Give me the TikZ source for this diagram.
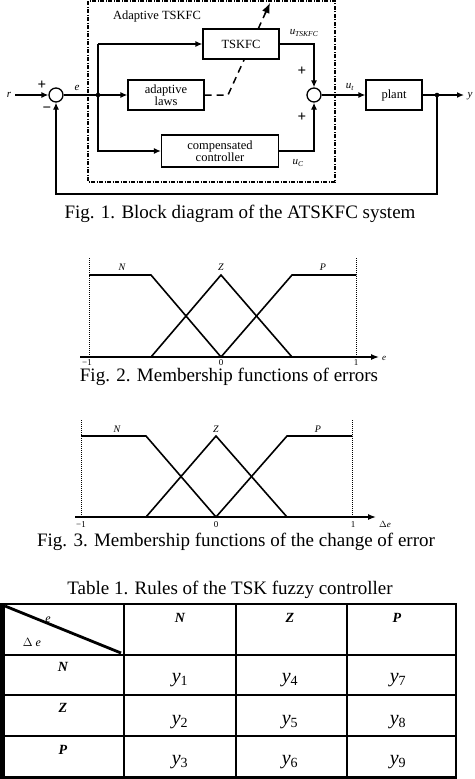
\documentclass[tikz,border=0pt]{standalone}
\usepackage{fontspec}
\setmainfont{Liberation Serif}
\usetikzlibrary{arrows.meta,calc}
\begin{document}
\begin{tikzpicture}[x=1pt,y=-1pt,
  blk/.style={draw,line width=1.3pt,fill=white,minimum width=#1,inner sep=0pt,font=\fontsize{12.5}{12.5}\selectfont,align=center},
  sumc/.style={draw,circle,line width=1.3pt,minimum size=14pt,inner sep=0pt},
  ln/.style={line width=1.3pt},
  arr/.style={line width=1.3pt,-{Latex[length=7pt,width=6pt]}},
  lbl/.style={font=\fontsize{11}{11}\selectfont\itshape,inner sep=0pt},
  pm/.style={font=\fontsize{15}{15}\selectfont\bfseries,inner sep=0pt},
  mf/.style={line width=1.6pt},
  dv/.style={line width=1pt,densely dotted},
  tk/.style={font=\fontsize{9}{9}\selectfont,inner sep=0pt},
  figcap/.style={font=\fontsize{19}{20}\selectfont,inner sep=0pt},
  tl/.style={line width=2.6pt},
  hd/.style={font=\fontsize{14}{14}\selectfont\bfseries\itshape,inner sep=0pt},
  yv/.style={font=\fontsize{20}{20}\selectfont,inner sep=0pt}]
\useasboundingbox (0,0) rectangle (474,779);
% ---------- Fig. 1 ----------
\draw[line width=1.2pt,dash pattern=on 4pt off 1.5pt on 1pt off 1.5pt] (88,1) rectangle (335,182);
\node[inner sep=0pt,font=\fontsize{12.5}{12.5}\selectfont] (adlbl) at (157,16) {Adaptive TSKFC};
\coordinate (dstart) at (228,95);
\coordinate (dtip) at (270,3);
\node[blk=76pt,minimum height=30pt] (al) at (166,95) {adaptive\\laws};
\draw[line width=1.5pt,dashed,dash pattern=on 7pt off 5pt] (al.east) -- (dstart) -- ($(dstart)!0.93!(dtip)$);
\draw[line width=1.3pt,-{Latex[length=10pt,width=8pt]}] ($(dstart)!0.88!(dtip)$) -- (dtip);
\node[blk=76pt,minimum height=30pt] (ts) at (241,44) {TSKFC};
\node[blk=117pt,minimum height=32pt] (cc) at (220,151) {compensated\\controller};
\node[sumc] (s1) at (56,95) {};
\node[sumc] (s2) at (314,95) {};
\node[blk=56pt,minimum height=30pt] (pl) at (394,95) {plant};
\node[lbl] (r) at (9,95) {r};
\coordinate (rin) at (15,95);
\node[lbl] (e) at (77,88) {e};
\fill (98,95) circle (2.3pt) coordinate (j);
\fill (437,95) circle (2.3pt) coordinate (j2);
\node[lbl] (y) at (470,96) {y};
\coordinate (yout) at (464,95);
\draw[arr] (rin) -- (s1.west);
\draw[ln] (s1.east) -- (j);
\draw[arr] (j) -- (al.west);
\draw[ln] (98,44) -- (98,152);
\draw[arr] (98,44) -- (ts.west);
\draw[arr] (98,151) -- (cc.west);
\draw[arr] (ts.east) -| (s2.north);
\draw[arr] (cc.east) -| (s2.south);
\draw[arr] (s2.east) -- (pl.west);
\draw[ln] (pl.east) -- (j2);
\draw[arr] (j2) -- (yout);
\draw[arr] (j2) -- (437,194) -| (s1.south);
\node[lbl] (uts) at (304,33) {u\textsubscript{\fontsize{7.5}{7.5}\selectfont TSKFC}};
\node[lbl] (ut) at (350,87) {u\textsubscript{\fontsize{7.5}{7.5}\selectfont t}};
\node[lbl] (uc) at (298,163) {u\textsubscript{\fontsize{7.5}{7.5}\selectfont C}};
\node[pm] (p1) at (302,71) {+};
\node[pm] (p2) at (302,117) {+};
\node[pm] (p3) at (42,85) {+};
\node[pm] (m3) at (47,110) {\textminus};
\node[figcap] (c1) at (240,214) {Fig. 1. Block diagram of the ATSKFC system};
% ---------- Fig. 2 ----------
\draw[dv] (89,258) -- (89,357);
\draw[dv] (356,258) -- (356,357);
\draw[line width=1.3pt,-{Latex[length=8pt,width=6pt]}] (80,357) -- (379,357);
\draw[mf] (89,275) -- (151,275) -- (221,357);
\draw[mf] (151,357) -- (221,275) -- (292,357);
\draw[mf] (221,357) -- (292,275) -- (356,275);
\node[lbl,font=\fontsize{10}{10}\selectfont\itshape] (n2) at (122,267) {N};
\node[lbl,font=\fontsize{10}{10}\selectfont\itshape] (z2) at (221,267) {Z};
\node[lbl,font=\fontsize{10}{10}\selectfont\itshape] (pp2) at (323,267) {P};
\node[tk] (t2a) at (87,363) {\textminus1};
\node[tk] (t2b) at (221,363) {0};
\node[tk] (t2c) at (356,363) {1};
\node[lbl,font=\fontsize{9}{9}\selectfont\itshape] (e2) at (384,358) {e};
\node[figcap] (c2) at (229,377) {Fig. 2. Membership functions of errors};
% ---------- Fig. 3 ----------
\draw[dv] (81,420) -- (81,517);
\draw[dv] (352,420) -- (352,517);
\draw[line width=1.3pt,-{Latex[length=8pt,width=6pt]}] (75,517) -- (376,517);
\draw[mf] (81,436) -- (146,436) -- (216,517);
\draw[mf] (146,517) -- (216,436) -- (287,517);
\draw[mf] (216,517) -- (287,436) -- (352,436);
\node[lbl,font=\fontsize{10}{10}\selectfont\itshape] (n3) at (117,429) {N};
\node[lbl,font=\fontsize{10}{10}\selectfont\itshape] (z3) at (216,429) {Z};
\node[lbl,font=\fontsize{10}{10}\selectfont\itshape] (pp3) at (318,429) {P};
\node[tk] (t3a) at (81,525) {\textminus1};
\node[tk] (t3b) at (216,525) {0};
\node[tk] (t3c) at (353,525) {1};
\node[tk] (de3) at (385,524) {$\Delta$\textit{e}};
\node[figcap] (c3) at (236,542) {Fig. 3. Membership functions of the change of error};
% ---------- Table ----------
\node[figcap] (c4) at (230,590) {Table 1. Rules of the TSK fuzzy controller};
\draw[tl] (2,604) -- (456,604);
\draw[tl] (2,655) -- (456,655);
\draw[tl] (2,695) -- (456,695);
\draw[tl] (2,736) -- (456,736);
\draw[tl] (2,777.5) -- (456,777.5);
\draw[line width=5pt] (2.5,603) -- (2.5,779);
\draw[tl] (124,603) -- (124,779);
\draw[tl] (236,603) -- (236,779);
\draw[tl] (347,603) -- (347,779);
\draw[tl] (456,603) -- (456,779);
\node[font=\fontsize{12}{12}\selectfont\itshape,inner sep=0pt] (te) at (48,620) {e};
\draw[line width=2.8pt] (5,606) -- (121,653);
\node[font=\fontsize{12}{12}\selectfont\itshape,inner sep=0pt] (tde) at (32,642) {$\Delta$ e};
\node[hd] (hN) at (180,618) {N};
\node[hd] (hZ) at (290,618) {Z};
\node[hd] (hP) at (397,618) {P};
\node[hd] (rN) at (63,667) {N};
\node[hd] (rZ) at (63,708) {Z};
\node[hd] (rP) at (63,750) {P};
\node[yv] at (180,680) {\textit{y}\textsubscript{1}};
\node[yv] at (290,680) {\textit{y}\textsubscript{4}};
\node[yv] at (398,680) {\textit{y}\textsubscript{7}};
\node[yv] at (180,722) {\textit{y}\textsubscript{2}};
\node[yv] at (290,722) {\textit{y}\textsubscript{5}};
\node[yv] at (398,722) {\textit{y}\textsubscript{8}};
\node[yv] at (180,762) {\textit{y}\textsubscript{3}};
\node[yv] at (290,762) {\textit{y}\textsubscript{6}};
\node[yv] at (398,762) {\textit{y}\textsubscript{9}};
\end{tikzpicture}
\end{document}
